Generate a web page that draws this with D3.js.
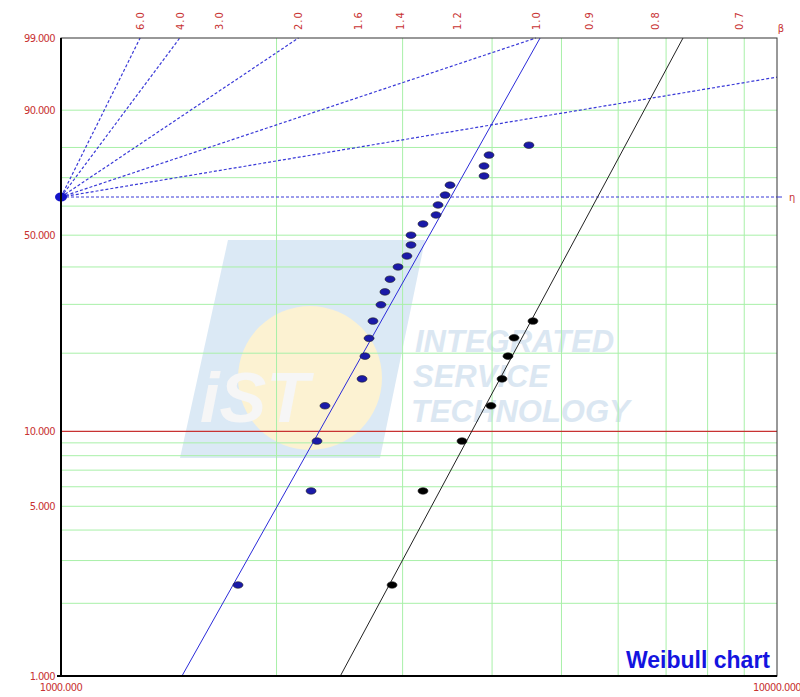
<!DOCTYPE html>
<html><head><meta charset="utf-8">
<script src="https://cdn.jsdelivr.net/npm/d3@7"></script>
<style>body{margin:0;background:#fff}svg{font-family:"DejaVu Sans Condensed","Liberation Sans",sans-serif}</style>
</head><body>
<script>
// data
var blueX = [4503,3961,3898,3898,3494,3439,3362,3340,3203,3082,3082,3042,2956,2881,2834,2798,2727,2693,2658,2633,2337,2278,2235,1767];
var blueF = [80.7,77.6,74.0,70.6,67.4,63.9,60.4,56.9,53.8,50.0,46.8,43.3,40.0,36.5,33.1,29.9,26.2,22.7,19.5,16.0,12.6,9.15,5.77,2.38];
var blackX = [4562,4293,4210,4130,3986,3631,3203,2900];
var blackF = [26.2,22.8,19.5,16.0,12.6,9.15,5.77,2.38];
var fits = [{eta: 3503, beta: 5.32, color: "#2b2bd9"}, {eta: 5616, beta: 5.56, color: "#222"}];
var yLabels = [99, 90, 50, 10, 5, 1];
var yGrid = [2,3,4,5,6,7,8,9,20,30,40,50,60,70,80,90];
var xGrid = [2000,3000,4000,5000,6000,7000,8000,9000];
var betaTicks = [6.0,4.0,3.0,2.0,1.6,1.4,1.2,1.0,0.9,0.8,0.7];
var betaLines = [6, 4, 2, 1, 0.5, 0];

var W = 800, H = 697, L = 61, R = 777, T = 38, B = 676;
var wz = function(F) { return Math.log(-Math.log(1 - F / 100)); };
var x = d3.scaleLog().domain([1000, 10000]).range([L, R]);
var y = d3.scaleLinear().domain([wz(1), wz(99)]).range([B, T]);

var svg = d3.select("body").append("svg").attr("width", W).attr("height", H);

// watermark
var wm = svg.append("g").attr("opacity", 0.75);
wm.append("path").attr("d", "M228,240 L425,240 L380,458 L180,458 Z").attr("fill", "#cfe2f2");
wm.append("circle").attr("cx", 310).attr("cy", 378).attr("r", 72).attr("fill", "#fbeec4");
wm.append("text").attr("x", 200).attr("y", 422).attr("font-size", 70).attr("font-weight", "bold")
  .attr("font-style", "italic").attr("fill", "#f3f3f3").attr("font-family", "Liberation Sans").text("iST");
["INTEGRATED", "SERVICE", "TECHNOLOGY"].forEach(function(t, i) {
  wm.append("text").attr("x", 415 - i * 2).attr("y", 352 + i * 35).attr("font-size", 31)
    .attr("font-weight", "bold").attr("font-style", "italic").attr("fill", "#cfe0ee")
    .attr("font-family", "Liberation Sans").text(t);
});

// grid
svg.selectAll(".gy").data(yGrid).enter().append("line")
   .attr("x1", L).attr("x2", R).attr("y1", function(d) { return y(wz(d)); }).attr("y2", function(d) { return y(wz(d)); })
   .attr("stroke", "#a8f0a8").attr("stroke-width", 1);
svg.selectAll(".gx").data(xGrid).enter().append("line")
   .attr("y1", T).attr("y2", B).attr("x1", function(d) { return x(d); }).attr("x2", function(d) { return x(d); })
   .attr("stroke", "#a8f0a8").attr("stroke-width", 1);
svg.append("line").attr("x1", L).attr("x2", R).attr("y1", y(wz(10))).attr("y2", y(wz(10)))
   .attr("stroke", "#c83232").attr("stroke-width", 1.2);

// beta estimation lines from pivot
var px = L, py = y(0);
var k = (y(0) - y(1)) / (x(Math.E * 1000) - x(1000)); // pixel slope per unit beta
function betaEnd(b) {
  if (b === 0) return [R, py];
  var dx = (py - T) / (k * b);
  if (px + dx <= R) return [px + dx, T];
  return [R, py - k * b * (R - px)];
}
svg.selectAll(".bl").data(betaLines).enter().append("line")
   .attr("x1", px).attr("y1", py)
   .attr("x2", function(d) { return betaEnd(d)[0]; }).attr("y2", function(d) { return betaEnd(d)[1]; })
   .attr("stroke", "#3a3ad8").attr("stroke-width", 1.2).attr("stroke-dasharray", "3,2");
svg.append("ellipse").attr("cx", px).attr("cy", py).attr("rx", 6).attr("ry", 4.5).attr("fill", "#1414c8");

// fit lines
fits.forEach(function(f) {
  var xAt = function(F) { return f.eta * Math.exp(wz(F) / f.beta); };
  svg.append("line").attr("x1", x(xAt(1))).attr("y1", y(wz(1))).attr("x2", x(xAt(99))).attr("y2", y(wz(99)))
     .attr("stroke", f.color).attr("stroke-width", 1);
});

// points
function pts(xs, fs, col) {
  svg.append("g").selectAll("ellipse").data(xs).enter().append("ellipse")
     .attr("cx", function(d) { return x(d); }).attr("cy", function(d, i) { return y(wz(fs[i])); })
     .attr("rx", 5).attr("ry", 3.3).attr("fill", col).attr("stroke", "#222").attr("stroke-width", 0.6);
}
pts(blueX, blueF, "#1a1aa8");
pts(blackX, blackF, "#000");

// frame
svg.append("rect").attr("x", L).attr("y", T).attr("width", R - L).attr("height", B - T)
   .attr("fill", "none").attr("stroke", "#333").attr("stroke-width", 1);
svg.append("line").attr("x1", L).attr("x2", L).attr("y1", T).attr("y2", B).attr("stroke", "#000").attr("stroke-width", 2);
svg.append("line").attr("x1", L - 4).attr("x2", R).attr("y1", B).attr("y2", B).attr("stroke", "#000").attr("stroke-width", 2);
svg.append("line").attr("x1", R).attr("x2", R + 5).attr("y1", py).attr("y2", py).attr("stroke", "#3a3ad8");

// labels
svg.selectAll(".yl").data(yLabels).enter().append("text")
   .attr("x", L - 6).attr("y", function(d) { return y(wz(d)) + 4; }).attr("text-anchor", "end")
   .attr("font-size", 11).attr("fill", "#c83232").attr("letter-spacing", -0.6)
   .text(function(d) { return d3.format(".3f")(d); });
svg.append("text").attr("x", L).attr("y", B + 15).attr("text-anchor", "middle").attr("font-size", 11)
   .attr("fill", "#c83232").attr("letter-spacing", -0.6).text("1000.000");
svg.append("text").attr("x", R).attr("y", B + 15).attr("text-anchor", "middle").attr("font-size", 11)
   .attr("fill", "#c83232").attr("letter-spacing", -0.6).text("10000.000");
svg.selectAll(".bt").data(betaTicks).enter().append("text")
   .attr("transform", function(d) { return "translate(" + (betaEnd(d)[0] + 4) + "," + (T - 8) + ") rotate(-90)"; })
   .attr("font-size", 11).attr("fill", "#c83232").attr("letter-spacing", 1)
   .text(function(d) { return d3.format(".1f")(d); });
svg.append("text").attr("x", R + 4).attr("y", 32).attr("text-anchor", "middle").attr("font-size", 11)
   .attr("fill", "#c83232").text("β");
svg.append("text").attr("x", R + 12).attr("y", py + 4).attr("font-size", 11).attr("fill", "#c83232").text("η");
svg.append("text").attr("x", 770).attr("y", 668).attr("text-anchor", "end").attr("font-size", 23)
   .attr("font-weight", "bold").attr("fill", "#1414e0").attr("font-family", "Liberation Sans Narrow, Liberation Sans")
   .text("Weibull chart");
</script>
</body></html>
